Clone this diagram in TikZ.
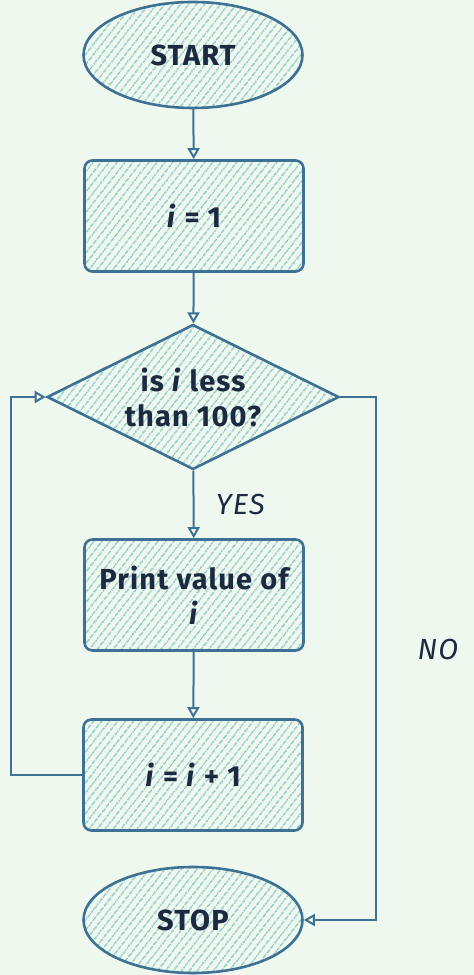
\documentclass[tikz,border=0pt]{standalone}
\usepackage{fontspec}
\setmainfont{Fira Sans}[LetterSpace=4]
\usepackage{tikz}
\usetikzlibrary{shapes.geometric}
\usetikzlibrary{arrows.meta}
\usetikzlibrary{patterns.meta}

\definecolor{paper}{HTML}{EFF8EF}
\definecolor{ink}{HTML}{3E7193}
\definecolor{hatch}{HTML}{86C8C4}
\definecolor{txt}{HTML}{1B2A40}

\begin{document}
\begin{tikzpicture}[x=1pt, y=1pt,
        every node/.style={font=\fontsize{29}{35}\selectfont\bfseries, text=txt, align=center},
        hatched/.style={draw=ink, line width=2.6pt, inner sep=0pt,
            pattern={Lines[angle=52, distance=6.5pt, line width=1.5pt]}, pattern color=hatch},
        terminal/.style={hatched, ellipse, minimum width=219, minimum height=106},
        process/.style={hatched, rectangle, rounded corners=8pt, minimum width=219, minimum height=111},
        decision/.style={hatched, diamond, aspect=2, minimum width=292, minimum height=145},
        flow/.style={draw=ink, line width=2pt, -{Triangle[open, length=11pt, width=12pt]}}]

            % paper
            \fill[paper] (0,0) rectangle (474,975);
            \useasboundingbox (0,0) rectangle (474,975);

            % boxes
            \node[terminal] (start) at (193,920) {START};
            \node[process]  (init)  at (194,759) {\textit{i} = 1};
            \node[decision] (test)  at (193,578) {is \textit{i} less\\than 100?};
            \node[process]  (show)  at (194,380) {Print value of\\\textit{i}};
            \node[process]  (inc)   at (193,200) {\textit{i} = \textit{i} + 1};
            \node[terminal] (stop)  at (193,55)  {STOP};

            % arrows
            \draw[flow] (start) -- (init);
            \draw[flow] (init) -- (test);
            \draw[flow] (test) -- node[right=18pt] {\itshape\mdseries YES} (show);
            \draw[flow] (show) -- (inc);

            % loop back and exit
            \draw[flow] (inc.west) -- ++(-71,0) |- (test.west);
            \draw[flow] (test.east) -- ++(36,0) |- (stop.east);
            \node (no) at (438,325) {\itshape\mdseries NO};
\end{tikzpicture}
\end{document}
